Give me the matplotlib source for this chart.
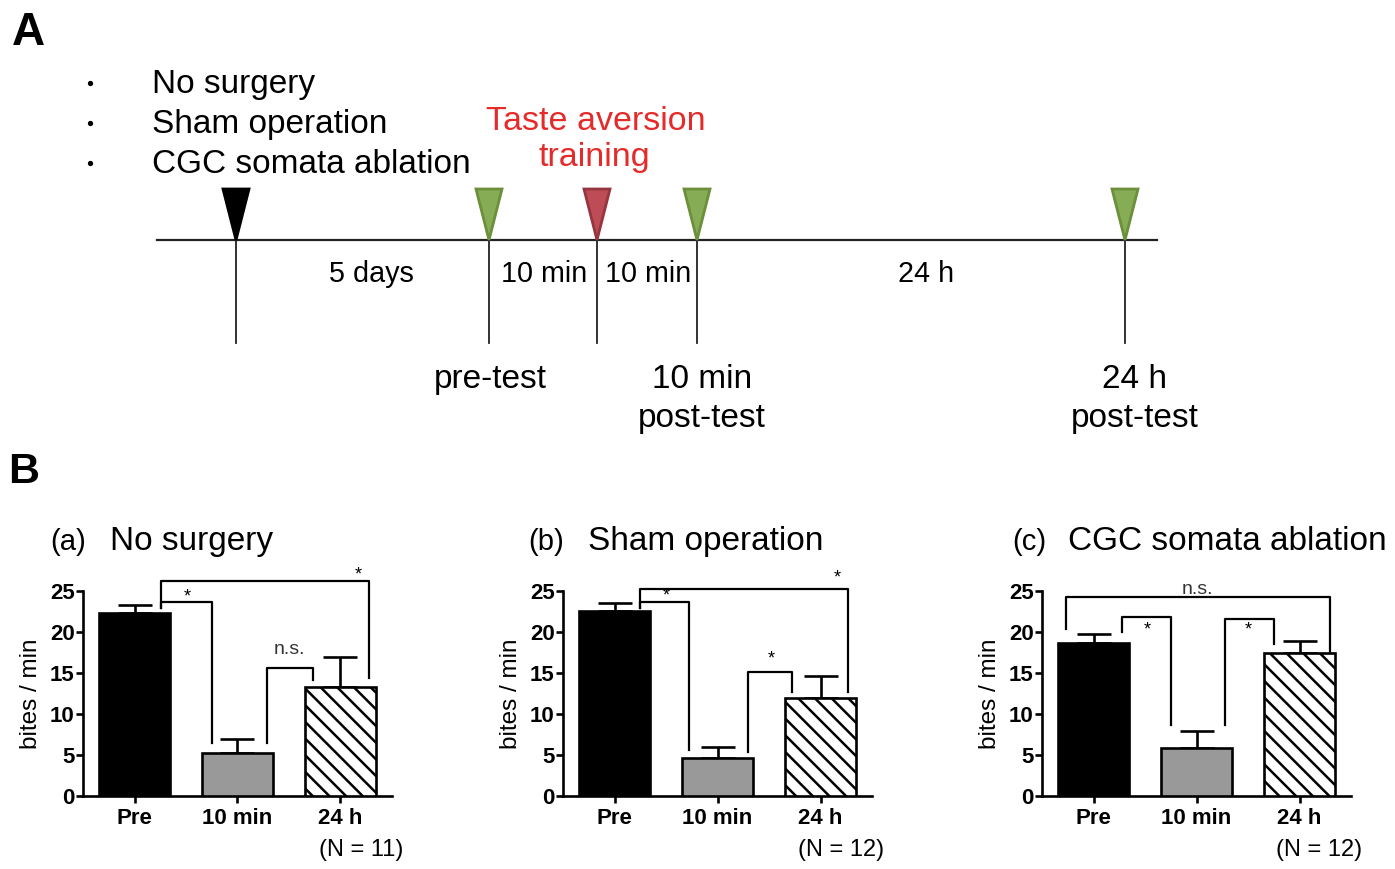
import matplotlib.pyplot as plt
from matplotlib.patches import Polygon

plt.rcParams['font.family'] = ['Liberation Sans', 'DejaVu Sans']
plt.rcParams['hatch.linewidth'] = 1.8

W, H = 1395, 869  # figure size in pixels (dpi 100)

# ---- bar chart data ----
groups = ['Pre', '10 min', '24 h']
bar_fill = ['black', '#999999', 'white']
bar_hatch = [None, None, '\\\\']

no_surgery = [22.35, 5.3, 13.3]
no_surgery_sem = [1.0, 1.65, 3.6]
sham = [22.55, 4.63, 11.9]
sham_sem = [1.0, 1.37, 2.7]
ablation = [18.6, 5.9, 17.4]
ablation_sem = [1.2, 2.0, 1.5]

n_animals = [11, 12, 12]
panel_tags = ['(a)', '(b)', '(c)']
panel_names = ['No surgery', 'Sham operation', 'CGC somata ablation']

# brackets: (x left, x right, y top, y left end, y right end, label, label x, label y)
brackets_a = [
    (0.26, 0.75, 23.6, 22.95, 6.5, '*', 0.51, 24.3),
    (0.26, 2.28, 26.25, 22.95, 14.4, '*', 2.17, 26.9),
    (1.29, 1.73, 15.6, 6.5, 14.1, 'n.s.', 1.5, 17.9),
]
brackets_b = [
    (0.25, 0.72, 23.6, 22.9, 5.6, '*', 0.50, 24.4),
    (0.25, 2.27, 25.3, 22.9, 12.7, '*', 2.16, 26.6),
    (1.30, 1.72, 15.1, 5.4, 12.7, '*', 1.52, 16.7),
]
brackets_c = [
    (-0.27, 2.30, 24.3, 20.4, 17.5, 'n.s.', 1.01, 25.2),
    (0.28, 0.75, 21.8, 19.95, 8.65, '*', 0.52, 20.3),
    (1.28, 1.75, 21.6, 8.65, 18.5, '*', 1.50, 20.3),
]

# ---- timeline (panel A) ----
conditions = ['No surgery', 'Sham operation', 'CGC somata ablation']
event_x = [236, 489, 597, 697, 1125]
event_fill = ['black', '#86ad55', '#bd4c57', '#86ad55', '#86ad55']
event_edge = ['black', '#6b8f3a', '#963540', '#6b8f3a', '#6b8f3a']
interval_labels = ['5 days', '10 min', '10 min', '24 h']
interval_x = [371, 544, 648, 926]
test_labels = [['pre-test'], ['10 min', 'post-test'], ['24 h', 'post-test']]
test_x = [490, 702, 1135]

fig = plt.figure(figsize=(W / 100, H / 100), dpi=100)
ov = fig.add_axes([0, 0, 1, 1], zorder=0)
ov.set_xlim(0, W)
ov.set_ylim(H, 0)
ov.axis('off')

ov.text(12, 45, 'A', fontsize=33, fontweight='bold', va='baseline')
ov.text(8, 483, 'B', fontsize=31, fontweight='bold', va='baseline')

for i, c in enumerate(conditions):
    yb = 93 + 40 * i
    ov.plot(90, yb - 10, 'o', color='black', markersize=2.8)
    ov.text(152, yb, c, fontsize=24, va='baseline')

ov.text(596, 130, 'Taste aversion', fontsize=24.5, color='#e52a2a', ha='center', va='baseline')
ov.text(594, 166, 'training', fontsize=24.5, color='#e52a2a', ha='center', va='baseline')

ov.plot([157, 1157], [240, 240], color='#222222', lw=1.6)
for x, fc, ec in zip(event_x, event_fill, event_edge):
    ov.plot([x, x], [240, 343], color='#222222', lw=1.3)
    tri = Polygon([[x - 13, 189], [x + 13, 189], [x, 240]], closed=True,
                  facecolor=fc, edgecolor=ec, lw=2, zorder=3)
    ov.add_patch(tri)

for lab, x in zip(interval_labels, interval_x):
    ov.text(x, 282, lab, fontsize=20.7, ha='center', va='baseline')

for lines, x in zip(test_labels, test_x):
    for j, s in enumerate(lines):
        ov.text(x, 388 + 39 * j, s, fontsize=24, ha='center', va='baseline')

# ---- bar panels ----
means = [no_surgery, sham, ablation]
sems = [no_surgery_sem, sham_sem, ablation_sem]
brackets = [brackets_a, brackets_b, brackets_c]
ax_left_px = [83, 563, 1042]
tag_x = [50, 528, 1012]
name_x = [110, 588, 1068]
n_x_off = [0.2, 0.2, 0.19]

for p in range(3):
    ax = fig.add_axes([ax_left_px[p] / W, 1 - 796 / H, 309 / W, 205 / H], zorder=2)
    x = range(len(groups))
    ax.bar(x, means[p], width=0.69, color=bar_fill, edgecolor='black',
           linewidth=1.9, zorder=3)
    for b, h in zip(ax.patches, bar_hatch):
        if h:
            b.set_hatch(h)
    ax.errorbar(x, means[p], yerr=[[0, 0, 0], sems[p]], fmt='none', ecolor='black',
                elinewidth=1.9, capsize=12, capthick=1.9, zorder=2)

    for xl, xr, yt, yl, yr, lab, lx, ly in brackets[p]:
        ax.plot([xl, xl, xr, xr], [yl, yt, yt, yr], color='black', lw=1.6,
                clip_on=False, zorder=4)
        if lab == '*':
            ax.text(lx, ly, lab, fontsize=13, ha='center', va='center')
        else:
            ax.text(lx, ly, lab, fontsize=14, ha='center', va='center', color='#333333')

    ax.set_xlim(-0.5, 2.5)
    ax.set_ylim(0, 25)
    ax.set_yticks([0, 5, 10, 15, 20, 25])
    ax.set_xticks(list(x))
    ax.set_xticklabels(groups)
    ax.spines['top'].set_visible(False)
    ax.spines['right'].set_visible(False)
    ax.spines['left'].set_linewidth(1.9)
    ax.spines['bottom'].set_linewidth(1.9)
    ax.tick_params(axis='both', direction='out', length=5, width=1.9, labelsize=16)
    ax.tick_params(axis='y', pad=1)
    ax.tick_params(axis='x', pad=4)
    for t in ax.get_xticklabels() + ax.get_yticklabels():
        t.set_fontweight('bold')
    ax.set_ylabel('bites / min', fontsize=17.5)
    ax.yaxis.set_label_coords(-0.133, 0.5)
    ax.text(2 + n_x_off[p], -0.263, f'(N = {n_animals[p]})', fontsize=17,
            ha='center', va='center', transform=ax.get_xaxis_transform())

    ov.text(tag_x[p], 550, panel_tags[p], fontsize=21, va='baseline')
    ov.text(name_x[p], 550, panel_names[p], fontsize=24, va='baseline')

fig.savefig('out.png', dpi=100)
